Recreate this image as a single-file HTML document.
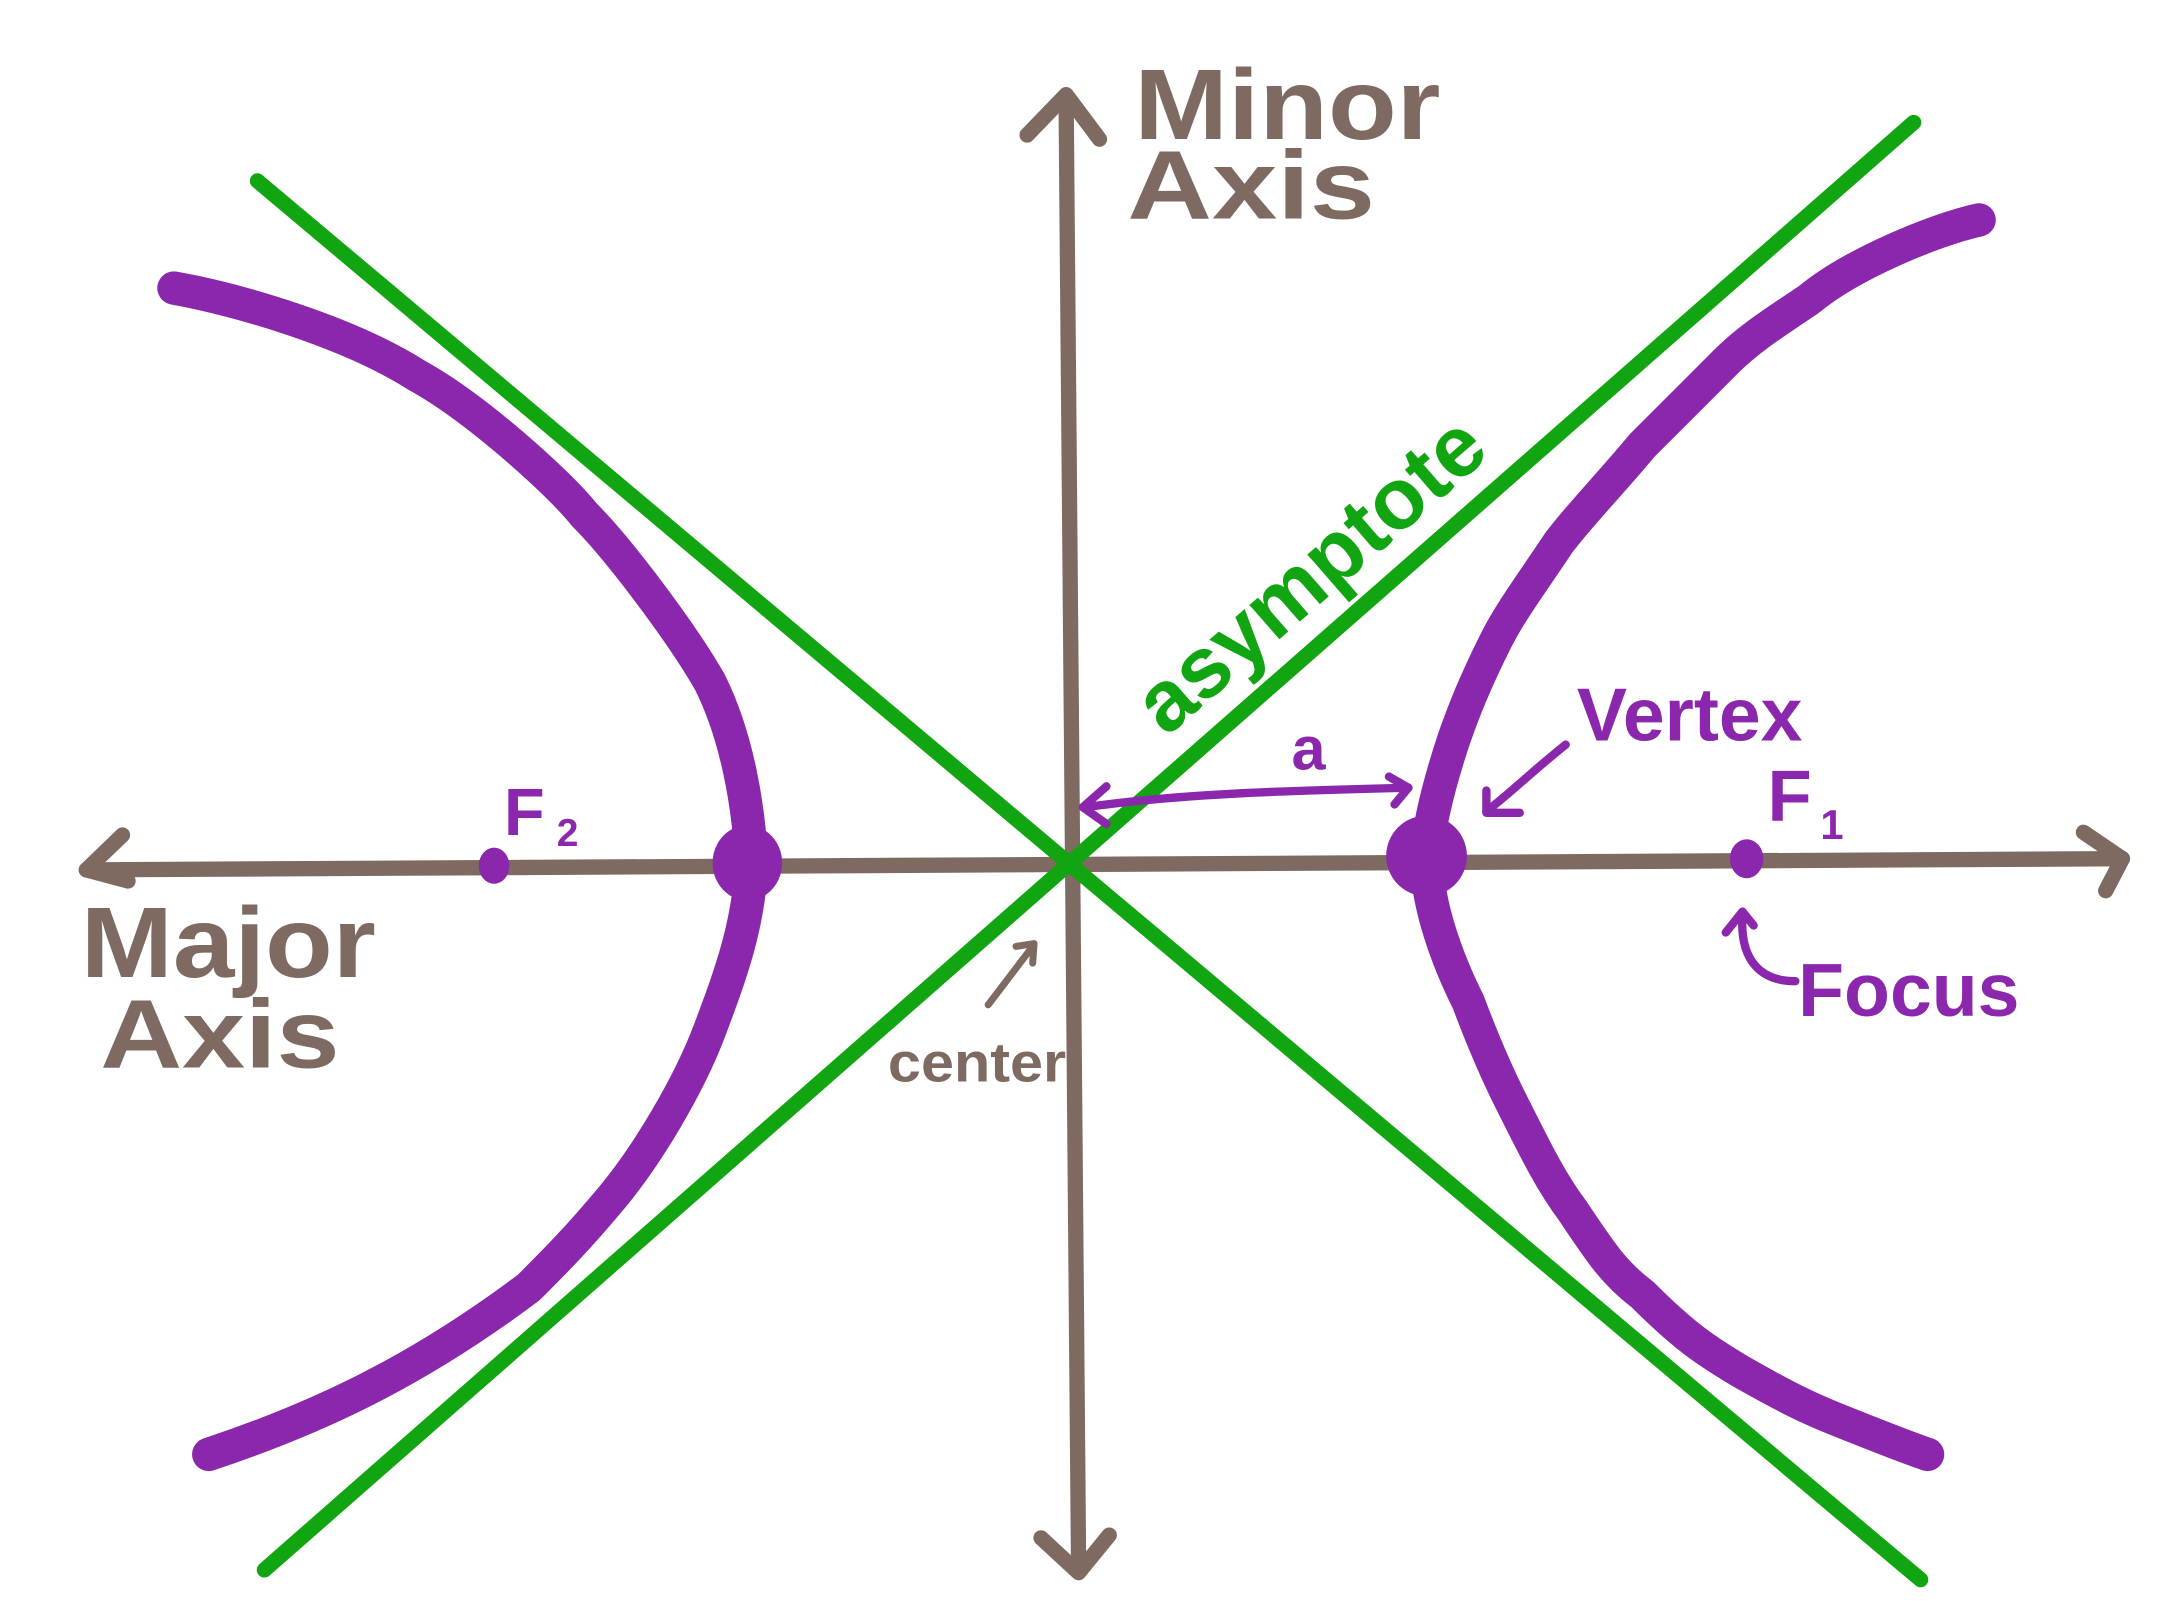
<!DOCTYPE html>
<html><head><meta charset="utf-8"><style>
html,body{margin:0;padding:0;background:#fff;}
svg{display:block;}
text{font-family:"Liberation Sans",sans-serif;font-weight:bold;}
</style></head><body>
<svg width="2160" height="1620" viewBox="0 0 1552 1164" preserveAspectRatio="none" xmlns="http://www.w3.org/2000/svg">
<g stroke-linecap="round" stroke-linejoin="round" fill="none">
<g stroke="#7f6a62" stroke-width="11">
<line x1="62" y1="625" x2="1525" y2="617"/>
<polyline points="88,600 62,625 92,633"/>
<polyline points="1497,598 1525,617 1513,640"/>
<line x1="766" y1="70" x2="775" y2="1127"/>
<polyline points="738,97 766,68 790,100"/>
<polyline points="748,1105 775,1130 797,1103"/>
</g>
<g stroke="#11a511" stroke-width="11">
<line x1="185" y1="130" x2="1380" y2="1135"/>
<line x1="190" y1="1128" x2="1375" y2="88"/>
</g>
<g stroke="#8a27ad" stroke-width="24">
<path d="M125,207 C170,215 250,238 300,270 C340,292 400,345 420,370 C445,395 490,455 510,490 C530,530 538,580 540,620 C538,665 525,700 510,740 C495,780 465,830 440,860 C415,890 400,905 380,925 C340,955 300,980 260,1000 C220,1020 180,1035 150,1045"/>
<path d="M1422,158 C1390,165 1330,190 1300,215 C1270,235 1255,245 1240,260 C1215,285 1200,300 1180,320 C1155,350 1135,370 1120,390 C1100,420 1085,440 1075,460 C1060,490 1052,510 1045,530 C1035,560 1027,590 1025,615 C1025,650 1040,690 1055,720 C1070,760 1080,780 1085,790 C1105,830 1115,850 1130,870 C1150,900 1160,915 1180,930 C1210,960 1225,970 1250,985 C1285,1005 1300,1012 1320,1020 C1350,1032 1370,1040 1385,1045"/>
</g>
<g stroke="#8a27ad" stroke-width="6">
<path d="M780,580 C850,570 930,568 1012,566"/>
<polyline points="795,565 778,580 795,592"/>
<polyline points="998,558 1012,566 1002,578"/>
<path d="M1125,535 C1100,555 1085,570 1068,583"/>
<polyline points="1068,568 1068,584 1092,584"/>
<path d="M1290,705 C1265,705 1250,690 1252,658"/>
<polyline points="1240,670 1252,655 1260,665"/>
</g>
<g stroke="#7f6a62" stroke-width="5">
<path d="M710,722 L742,680"/>
<polyline points="730,680 743,678 742,692"/>
</g>
</g>
<g fill="#8a27ad">
<ellipse cx="537" cy="620" rx="25" ry="27"/>
<ellipse cx="1025" cy="615" rx="29" ry="29"/>
<ellipse cx="355" cy="622" rx="11" ry="13"/>
<ellipse cx="1255" cy="617" rx="12" ry="14"/>
</g>
<g fill="#7f6a62">
<text x="815" y="100" font-size="72" textLength="220" lengthAdjust="spacingAndGlyphs">Minor</text>
<text x="810" y="157" font-size="70" textLength="178" lengthAdjust="spacingAndGlyphs">Axis</text>
<text x="58" y="702" font-size="72" textLength="212" lengthAdjust="spacingAndGlyphs">Major</text>
<text x="72" y="767" font-size="70" textLength="172" lengthAdjust="spacingAndGlyphs">Axis</text>
<text x="638" y="777" font-size="40" textLength="128" lengthAdjust="spacingAndGlyphs">center</text>
</g>
<text transform="translate(838,530) rotate(-41)" font-size="62" fill="#11a511" font-weight="normal">asymptote</text>
<g fill="#8a27ad" font-weight="normal">
<text x="1133" y="532" font-size="54">Vertex</text>
<text x="928" y="553" font-size="44">a</text>
<text x="362" y="600" font-size="48">F</text>
<text x="400" y="608" font-size="28">2</text>
<text x="1270" y="590" font-size="52">F</text>
<text x="1308" y="603" font-size="30">1</text>
<text x="1292" y="730" font-size="54">Focus</text>
</g>
</svg>
</body></html>
